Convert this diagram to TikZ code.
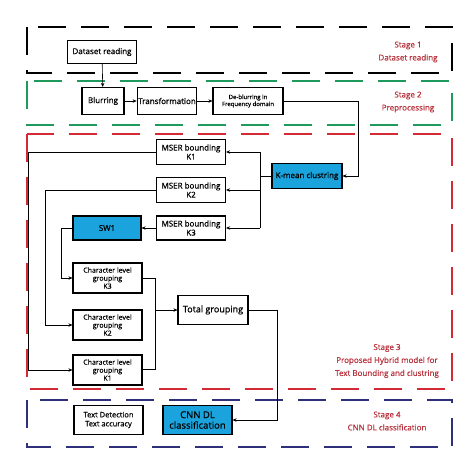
\documentclass[tikz,border=0pt]{standalone}
\usepackage{fontspec}
\setmainfont{Open Sans}
\newfontfamily\semib{Open Sans}[FakeBold=0.7]
\usetikzlibrary{arrows.meta}
\definecolor{stagered}{HTML}{B8333D}
\definecolor{boxblue}{HTML}{1AA3DC}
\definecolor{dgreen}{HTML}{1E9A5C}
\definecolor{dred}{HTML}{D42A35}
\definecolor{dnavy}{HTML}{2E307A}
\begin{document}
\begin{tikzpicture}[x=1pt,y=-1pt,
  blk/.style={draw, line width=1.2pt, fill=white, align=center, inner sep=1pt, font=\semib\fontsize{8}{9}\selectfont},
  blu/.style={blk, fill=boxblue},
  lbl/.style={text=stagered, align=center, font=\semib\fontsize{8}{13}\selectfont},
  stagebox/.style={line width=2.5pt, dash pattern=on 28pt off 15pt},
  con/.style={line width=0.6pt},
  arr/.style={con, -{Stealth[length=4pt,width=3.5pt]}}]
\useasboundingbox (0,0) rectangle (474,474);
% stage frames
\draw[stagebox] (27,27) rectangle (452,73);
\draw[stagebox, dgreen] (27,81) rectangle (452,125);
\draw[stagebox, dred] (27,134) rectangle (452,389);
\draw[stagebox, dnavy] (27,400) rectangle (452,447);
% stage labels
\node[lbl] (st1) at (408,52) {Stage 1\\Dataset reading};
\node[lbl] (st2) at (408,102) {Stage 2\\Preprocessing};
\node[lbl] (st3) at (387,361) {Stage 3\\Proposed Hybrid model for\\Text Bounding and clustring};
\node[lbl] (st4) at (387,421) {Stage 4\\CNN DL classification};
% stage 1 and 2
\node[blk, minimum width=69pt, minimum height=23pt] (read) at (102,52) {Dataset reading};
\node[blk, minimum width=42pt, minimum height=27pt] (blur) at (103,101) {Blurring};
\node[blk, minimum width=54pt, minimum height=27pt] (trans) at (167,101) {Transformation};
\node[blk, minimum width=70pt, minimum height=27pt, font=\semib\fontsize{6}{7}\selectfont] (deblur) at (248,101) {De-blurring in\\Frequency domain};
\draw[arr] (read) -- (blur);
\draw[arr] (blur) -- (trans);
\draw[arr] (trans) -- (deblur);
% stage 3
\node[blu, minimum width=70pt, minimum height=25pt] (kmean) at (307,176) {K-mean clustring};
\node[blk, minimum width=69pt, minimum height=25pt] (mser1) at (191,152) {MSER bounding\\K1};
\node[blk, minimum width=69pt, minimum height=25pt] (mser2) at (191,190) {MSER bounding\\K2};
\node[blk, minimum width=69pt, minimum height=24pt] (mser3) at (191,228) {MSER bounding\\K3};
\node[blu, minimum width=68pt, minimum height=24pt] (sw) at (107,228) {SW1};
\node[blk, minimum width=69pt, minimum height=30pt, font=\semib\fontsize{7}{8}\selectfont] (char3) at (107.5,278) {Character level\\grouping\\K3};
\node[blk, minimum width=69pt, minimum height=30pt, font=\semib\fontsize{7}{8}\selectfont] (char2) at (107.5,325) {Character level\\grouping\\K2};
\node[blk, minimum width=69pt, minimum height=30pt, font=\semib\fontsize{7}{8}\selectfont] (char1) at (107.5,370) {Character level\\grouping\\K1};
\node[blk, minimum width=70pt, minimum height=29pt, font=\semib\fontsize{9}{10}\selectfont] (total) at (213,310) {Total grouping};
\draw[arr] (deblur.east) -- (358,101) |- (kmean.east);
\draw[con] (kmean.west) -- (260,176);
\draw[arr] (260,152) -- (mser1.east);
\draw[arr] (260,190) -- (mser2.east);
\draw[arr] (260,228) -- (mser3.east);
\draw[con] (260,152) -- (260,228);
\draw[arr] (mser3) -- (sw);
\draw[arr] (mser1.west) -- (28,152) |- (char1.west);
\draw[arr] (mser2.west) -- (45,190) |- (char2.west);
\draw[arr] (sw.west) -- (61,228) |- (char3.west);
\draw[con] (char3.east) -- (155,278) -- (155,369) -- (char1.east |- 0,369);
\draw[arr] (155,310) -- (total.west);
% stage 4
\node[blk, minimum width=69pt, minimum height=29pt, font=\semib\fontsize{7.5}{9}\selectfont] (detect) at (108.5,420) {Text Detection\\Text accuracy};
\node[blu, minimum width=69pt, minimum height=29pt, font=\semib\fontsize{9.5}{10.5}\selectfont] (cnn) at (197.5,420) {CNN DL\\classification};
\draw[arr] (total.east) -- (277,310) |- (cnn.east);
\end{tikzpicture}
\end{document}
